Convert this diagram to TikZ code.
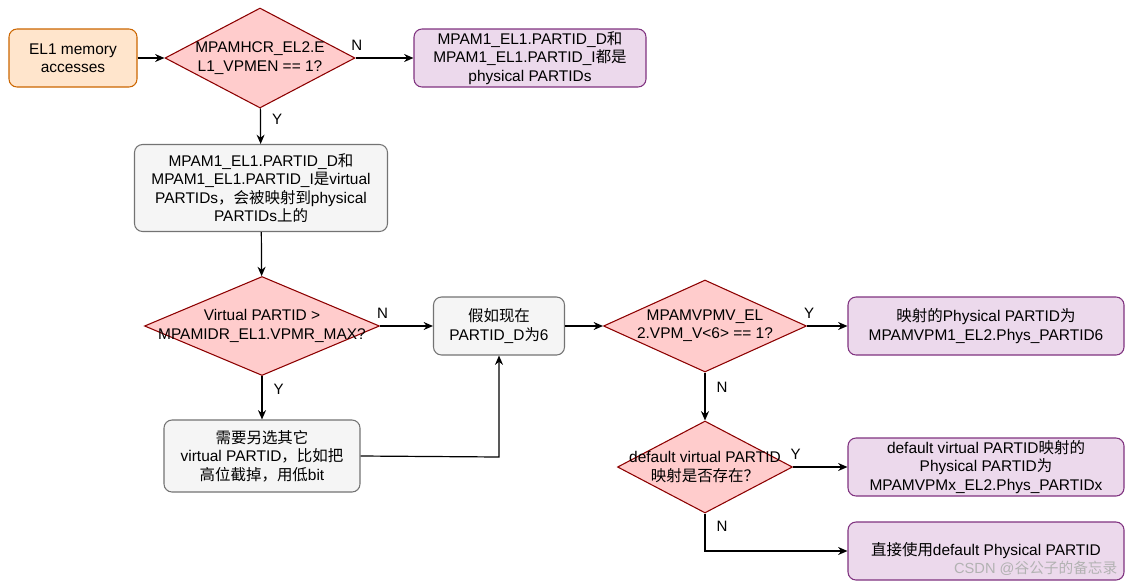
\documentclass[tikz,border=0pt]{standalone}
\usepackage{fontspec}
\setmainfont{Liberation Sans}
\newfontfamily\cjk{Noto Sans CJK SC}
\newcommand{\zh}[1]{{\cjk #1}}
\usetikzlibrary{shapes.geometric,arrows.meta}
\begin{document}
\begin{tikzpicture}[x=0.75pt,y=-0.75pt,
  font=\fontsize{11.6}{13.8}\selectfont,
  txt/.style={align=center,inner sep=0pt},
  box/.style={draw,rounded corners=6pt,line width=0.8pt,align=center,inner sep=0pt},
  orange/.style={box,fill=orange!20!white,draw=orange!80!black},
  purple/.style={box,fill=violet!15!white,draw=violet!60!gray},
  grey/.style={box,fill=gray!8,draw=gray!90!black},
  dia/.style={diamond,draw=red!55!black,fill=red!20!white,line width=0.8pt,align=center,aspect=1.9,inner sep=0pt},
  arr/.style={-{Stealth[length=7pt,width=6pt]},line width=0.9pt},
  lab/.style={font=\fontsize{11.3}{13}\selectfont}]
\fill[white] (0,0) rectangle (1136,586);
\node[orange,minimum width=128*0.75pt,minimum height=58*0.75pt] (a) at (73,58) {EL1 memory\\accesses};
\node[dia,minimum width=190*0.75pt,minimum height=100*0.75pt] (d1) at (260,58) {};
\node[txt] (t1) at (260,58) {MPAMHCR\_EL2.E\\L1\_VPMEN == 1?};
\node[purple,minimum width=232*0.75pt,minimum height=58*0.75pt] (p1) at (530,58) {MPAM1\_EL1.PARTID\_D\zh{和}\\MPAM1\_EL1.PARTID\_I\zh{都是}\\physical PARTIDs};
\node[grey,minimum width=253*0.75pt,minimum height=87*0.75pt] (g1) at (261,188) {MPAM1\_EL1.PARTID\_D\zh{和}\\MPAM1\_EL1.PARTID\_I\zh{是}virtual\\PARTIDs\zh{，会被映射到}physical\\PARTIDs\zh{上的}};
\node[dia,minimum width=235*0.75pt,minimum height=99*0.75pt] (d2) at (262,326) {};
\node[txt] (t2) at (262,326) {Virtual PARTID >\\MPAMIDR\_EL1.VPMR\_MAX?};
\node[grey,minimum width=131*0.75pt,minimum height=58*0.75pt] (b) at (499,326) {\zh{假如现在}\\PARTID\_D\zh{为}6};
\node[dia,minimum width=203*0.75pt,minimum height=92*0.75pt] (d3) at (705,326) {};
\node[txt] (t3) at (705,326) {MPAMVPMV\_EL\\2.VPM\_V<6> == 1?};
\node[purple,minimum width=276*0.75pt,minimum height=58*0.75pt] (p2) at (986,326) {\zh{映射的}Physical PARTID\zh{为}\\MPAMVPM1\_EL2.Phys\_PARTID6};
\node[grey,minimum width=196*0.75pt,minimum height=72*0.75pt] (g2) at (262,456) {\zh{需要另选其它}\\virtual PARTID\zh{，比如把}\\\zh{高位截掉，用低}bit};
\node[dia,minimum width=175*0.75pt,minimum height=92*0.75pt] (d4) at (705,467) {};
\node[txt] (t4) at (705,467) {default virtual PARTID\\\zh{映射是否存在？}};
\node[purple,minimum width=276*0.75pt,minimum height=58*0.75pt] (p3) at (986,467) {default virtual PARTID\zh{映射的}\\Physical PARTID\zh{为}\\MPAMVPMx\_EL2.Phys\_PARTIDx};
\node[purple,minimum width=276*0.75pt,minimum height=58*0.75pt] (p4) at (986,551) {\zh{直接使用}default Physical PARTID};
\coordinate (c1) at (499,457);
\coordinate (c2) at (705,551);
\draw[arr] (a) -- (d1);
\draw[arr] (d1) -- node[lab,pos=0.02,above,yshift=2pt]{N} (p1);
\draw[arr] (d1) -- node[lab,pos=0.3,right,xshift=5pt]{Y} (g1);
\draw[arr] (g1) -- (d2);
\draw[arr] (d2) -- node[lab,pos=0.05,above,yshift=2pt]{N} (b);
\draw[arr] (d2) -- node[lab,pos=0.3,right,xshift=5pt]{Y} (g2);
\draw[arr] (g2.east) -- (c1) -- (b.south);
\draw[arr] (b) -- (d3);
\draw[arr] (d3) -- node[lab,pos=0.05,above,yshift=2pt]{Y} (p2);
\draw[arr] (d3) -- node[lab,pos=0.3,right,xshift=5pt]{N} (d4);
\draw[arr] (d4) -- node[lab,pos=0.05,above,yshift=2pt]{Y} (p3);
\draw[arr] (d4.south) -- node[lab,pos=0.35,right,xshift=5pt]{N} (c2) -- (p4.west);
\node[text=gray!60,font=\fontsize{11}{13}\selectfont,anchor=east] (w) at (1122,568) {CSDN @\zh{谷公子的备忘录}};
\end{tikzpicture}
\end{document}
